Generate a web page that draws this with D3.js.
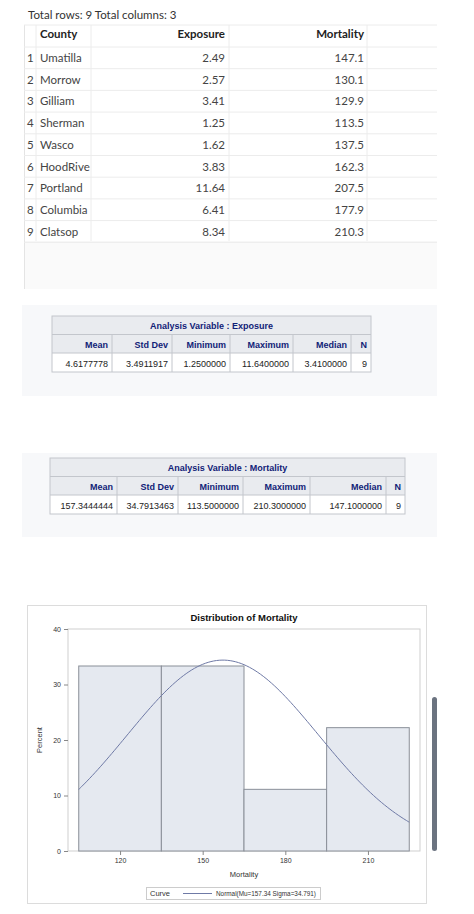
<!DOCTYPE html>
<html><head><meta charset="utf-8">
<script src="https://cdn.jsdelivr.net/npm/d3@7"></script>
<style>body{margin:0;background:#fff}svg{display:block;font-family:"Liberation Sans",Arial,sans-serif}</style>
</head><body><svg id="page" width="474" height="914"></svg>
<script>
const counties = ['Umatilla','Morrow','Gilliam','Sherman','Wasco','HoodRive','Portland','Columbia','Clatsop'];
const exposure = ['2.49','2.57','3.41','1.25','1.62','3.83','11.64','6.41','8.34'];
const mortality = ['147.1','130.1','129.9','113.5','137.5','162.3','207.5','177.9','210.3'];
const statHeaders = ['Mean','Std Dev','Minimum','Maximum','Median','N'];
const expStats = ['4.6177778','3.4911917','1.2500000','11.6400000','3.4100000','9'];
const mortStats = ['157.3444444','34.7913463','113.5000000','210.3000000','147.1000000','9'];
const binStarts = [105, 135, 165, 195];
const binPercents = [33.333, 33.333, 11.111, 22.222];
const mu = 157.34, sigma = 34.791, binWidth = 30;
const xTicks = [120, 150, 180, 210];
const yTicks = [0, 10, 20, 30, 40];

const svg = d3.select('#page');

// data table
svg.append('text').attr('x', 28).attr('y', 19).attr('font-size', 11.5).attr('fill', '#333')
  .style('font-family', 'Lato, sans-serif').text('Total rows: 9   Total columns: 3');
const colX = [24, 36, 91, 229, 367, 437];
const rowY = d3.scaleLinear().domain([0, 1]).range([47, 68.7]);
const tg = svg.append('g').style('font-family', 'Lato, sans-serif');
tg.append('rect').attr('x', 24).attr('y', 241).attr('width', 413).attr('height', 48).attr('fill', '#fafafa');
tg.append('line').attr('x1', 24.5).attr('x2', 24.5).attr('y1', 25).attr('y2', 289).attr('stroke', '#e4e4e4');
d3.range(10).forEach(i => {
  tg.append('line').attr('x1', 24).attr('x2', 437).attr('y1', rowY(i)).attr('y2', rowY(i)).attr('stroke', '#ececec');
});
tg.append('line').attr('x1', 24).attr('x2', 437).attr('y1', 25).attr('y2', 25).attr('stroke', '#ececec');
colX.slice(1, 5).forEach(x => tg.append('line').attr('x1', x).attr('x2', x).attr('y1', 25).attr('y2', 241).attr('stroke', '#ececec'));
tg.append('text').attr('x', 40).attr('y', 38).attr('font-weight', 'bold').attr('font-size', 11.5).attr('fill', '#222').text('County');
tg.append('text').attr('x', 225).attr('y', 38).attr('text-anchor', 'end').attr('font-weight', 'bold').attr('font-size', 11.5).attr('fill', '#222').text('Exposure');
tg.append('text').attr('x', 364).attr('y', 38).attr('text-anchor', 'end').attr('font-weight', 'bold').attr('font-size', 11.5).attr('fill', '#222').text('Mortality');
counties.forEach((c, i) => {
  const y = rowY(i) + 15;
  const t = s => tg.append('text').attr('y', y).attr('font-size', 11.5).attr('fill', '#444').text(s);
  t(i + 1).attr('x', 27);
  t(c).attr('x', 40);
  t(exposure[i]).attr('x', 225).attr('text-anchor', 'end');
  t(mortality[i]).attr('x', 364).attr('text-anchor', 'end');
});

// stats tables
function statTable(title, values, bg, x0, widths, y0) {
  const g = svg.append('g').attr('font-size', 9);
  g.append('rect').attr('x', bg[0]).attr('y', bg[1]).attr('width', bg[2]).attr('height', bg[3]).attr('fill', '#f7f8fa');
  const total = d3.sum(widths);
  const edges = [x0].concat(Array.from(d3.cumsum(widths), v => x0 + v));
  g.append('rect').attr('x', x0).attr('y', y0).attr('width', total).attr('height', 37).attr('fill', '#e9ebef');
  g.append('rect').attr('x', x0).attr('y', y0 + 37).attr('width', total).attr('height', 19).attr('fill', '#fff');
  g.append('rect').attr('x', x0).attr('y', y0).attr('width', total).attr('height', 56).attr('fill', 'none').attr('stroke', '#c3c6cc');
  [18.5, 37].forEach(d => g.append('line').attr('x1', x0).attr('x2', x0 + total).attr('y1', y0 + d).attr('y2', y0 + d).attr('stroke', '#c3c6cc'));
  edges.slice(1, -1).forEach(x => g.append('line').attr('x1', x).attr('x2', x).attr('y1', y0 + 18.5).attr('y2', y0 + 56).attr('stroke', '#c3c6cc'));
  g.append('text').attr('x', x0 + total / 2).attr('y', y0 + 13).attr('text-anchor', 'middle').attr('font-weight', 'bold').attr('fill', '#112277').text(title);
  statHeaders.forEach((h, i) => {
    g.append('text').attr('x', edges[i + 1] - 4).attr('y', y0 + 31.5).attr('text-anchor', 'end').attr('font-weight', 'bold').attr('fill', '#112277').text(h);
    g.append('text').attr('x', edges[i + 1] - 4).attr('y', y0 + 50.5).attr('text-anchor', 'end').attr('fill', '#222').text(values[i]);
  });
}
statTable('Analysis Variable : Exposure', expStats, [22, 305, 415, 91], 52, [60, 60, 58, 63, 58, 20], 316);
statTable('Analysis Variable : Mortality', mortStats, [22, 453, 415, 84], 50, [67, 61, 65, 67, 76, 19], 458);

// histogram
const pg = svg.append('g');
pg.append('rect').attr('x', 27.5).attr('y', 605.5).attr('width', 399).attr('height', 298).attr('fill', '#fff').attr('stroke', '#dcdcdc');
const x = d3.scaleLinear().domain([101.1, 228.9]).range([68, 420]);
const y = d3.scaleLinear().domain([0, 40]).range([851, 629]);
pg.append('text').attr('x', 244).attr('y', 621).attr('text-anchor', 'middle').attr('font-weight', 'bold').attr('font-size', 9.5).attr('fill', '#111').text('Distribution of Mortality');
pg.append('rect').attr('x', 68).attr('y', 629).attr('width', 352).attr('height', 222).attr('fill', 'none').attr('stroke', '#cfcfcf');
pg.selectAll('.bar').data(binStarts).join('rect')
  .attr('x', d => x(d)).attr('width', d => x(d + binWidth) - x(d))
  .attr('y', (d, i) => y(binPercents[i])).attr('height', (d, i) => y(0) - y(binPercents[i]))
  .attr('fill', '#e5e9f0').attr('stroke', '#8a8f98').attr('stroke-width', 1);
const curveX = d3.range(105, 225.01, 1);
const dens = v => 100 * binWidth * Math.exp(-0.5 * ((v - mu) / sigma) ** 2) / (sigma * Math.sqrt(2 * Math.PI));
pg.append('path').datum(curveX).attr('fill', 'none').attr('stroke', '#6f7aa6').attr('stroke-width', 1)
  .attr('d', d3.line().x(d => x(d)).y(d => y(dens(d))).curve(d3.curveBasis));
const xa = pg.append('g').attr('transform', 'translate(0,851)').call(d3.axisBottom(x).tickValues(xTicks).tickSize(4));
const ya = pg.append('g').attr('transform', 'translate(68,0)').call(d3.axisLeft(y).tickValues(yTicks).tickSize(4));
[xa, ya].forEach(a => {
  a.select('.domain').remove();
  a.selectAll('line').attr('stroke', '#888');
  a.selectAll('text').attr('font-size', 7).attr('fill', '#333');
});
pg.append('text').attr('x', 244).attr('y', 877).attr('text-anchor', 'middle').attr('font-size', 7.5).attr('fill', '#333').text('Mortality');
pg.append('text').attr('transform', 'translate(42,740) rotate(-90)').attr('text-anchor', 'middle').attr('font-size', 7.5).attr('fill', '#333').text('Percent');
pg.append('rect').attr('x', 146.5).attr('y', 887.5).attr('width', 174).attr('height', 12).attr('fill', '#fff').attr('stroke', '#ccc');
pg.append('text').attr('x', 150).attr('y', 896).attr('font-size', 7.5).attr('fill', '#333').text('Curve');
pg.append('line').attr('x1', 183).attr('x2', 212).attr('y1', 893.5).attr('y2', 893.5).attr('stroke', '#6f7aa6');
pg.append('text').attr('x', 216).attr('y', 896).attr('font-size', 7).attr('fill', '#333')
  .attr('textLength', 100).attr('lengthAdjust', 'spacingAndGlyphs').text('Normal(Mu=157.34 Sigma=34.791)');

// scrollbar
svg.append('rect').attr('x', 432).attr('y', 697).attr('width', 5).attr('height', 154).attr('rx', 2.5).attr('fill', '#6b7380');
</script></body></html>
